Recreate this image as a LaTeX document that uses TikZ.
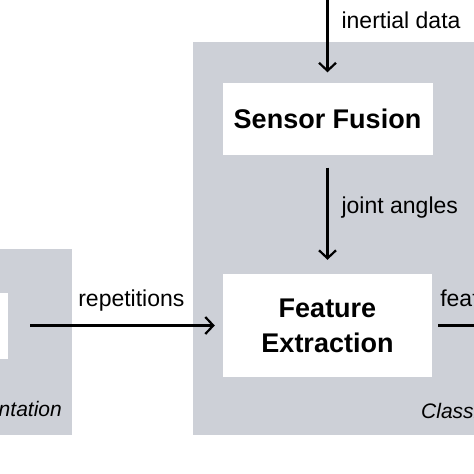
\documentclass[tikz,border=0pt]{standalone}
\usepackage{fontspec}
\setmainfont{Liberation Sans}
\usepackage{tikz}
\usetikzlibrary{positioning,arrows.meta}
\definecolor{panelgray}{HTML}{CDD0D7}

\begin{document}
\begin{tikzpicture}[
    x=1pt, y=-1pt,
    panel/.style={fill=panelgray, inner sep=0pt},
    box/.style={fill=white, inner sep=0pt, align=center, font=\fontsize{27}{35}\selectfont\bfseries},
    lbl/.style={inner sep=0pt, font=\fontsize{23}{27}\selectfont},
    tag/.style={inner sep=0pt, font=\fontsize{21}{25}\selectfont\itshape},
    arr/.style={-{Straight Barb[length=8pt, width=17pt, line width=2.2pt]}, line width=2.2pt}
  ]
    \useasboundingbox (0,0) rectangle (474,474);

    % gray stage panels
    \node[panel, minimum width=222pt, minimum height=186pt] (segpanel) at (-39,342) {};
    \node[panel, minimum width=427pt, minimum height=393pt] (clspanel) at (406.5,238.5) {};

    % processing boxes
    \node[box, minimum width=108pt, minimum height=66pt] (seg) at (-46,325.5) {};
    \node[box, minimum width=210pt, minimum height=72pt] (sf) at (327.5,118.5) {Sensor Fusion};
    \node[box, minimum width=209pt, minimum height=103pt] (fe) at (327.5,325.5) {Feature\\Extraction};

    \coordinate (imu) at (327.5,-10);
    \coordinate (out) at (490,325.5);

    % panel captions
    \node[tag, anchor=base east] (segtag) at (62,416) {Segmentation};
    \node[tag, anchor=base west] (clstag) at (421,418) {Classification};

    % data flow
    \draw[arr, shorten >=10pt] (imu) -- node[lbl, pos=0.326, right=13pt] {inertial data} (sf);
    \draw[arr, shorten <=13pt, shorten >=14pt] (sf) -- node[lbl, pos=0.44, right=13pt] {joint angles} (fe);
    \draw[arr, shorten <=22pt, shorten >=8pt] (seg) -- node[lbl, pos=0.574, above=13pt] {repetitions} (fe);
    \draw[arr, shorten <=6pt] (fe) -- node[lbl, pos=0, above right=18pt and 7pt] {features} (out);
  \end{tikzpicture}
\end{document}
